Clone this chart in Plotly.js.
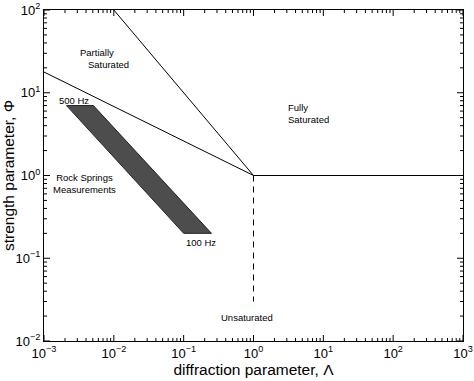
<!DOCTYPE html>
<html><head><meta charset="utf-8">
<script src="https://cdn.plot.ly/plotly-3.0.1.min.js"></script>
<style>html,body{margin:0;padding:0;background:#fff}#c{width:474px;height:381px}</style>
</head><body><div id="c"></div>
<script>
// Regime boundary lines (Λ, Φ)
const steepLam = [0.01, 1];
const steepPhi = [100, 1];
const shallowLam = [0.001, 1];
const shallowPhi = [17.8, 1];
const flatLam = [1, 1000];
const flatPhi = [1, 1];
const dashLam = [1, 1];
const dashPhi = [1, 0.03];
// Rock Springs measurement band (polygon corners)
const bandLam = [0.0021, 0.0051, 0.25, 0.1, 0.0021];
const bandPhi = [7.0, 7.0, 0.2, 0.2, 7.0];
// Tick labels
const xTickVals = [0.001, 0.01, 0.1, 1, 10, 100, 1000];
const xTickText = ['10<sup>−3</sup>','10<sup>−2</sup>','10<sup>−1</sup>','10<sup>0</sup>','10<sup>1</sup>','10<sup>2</sup>','10<sup>3</sup>'];
const yTickVals = [0.01, 0.1, 1, 10, 100];
const yTickText = ['10<sup>−2</sup>','10<sup>−1</sup>','10<sup>0</sup>','10<sup>1</sup>','10<sup>2</sup>'];
const minorMult = [2, 3, 4, 5, 6, 7, 8, 9];
// Region labels
const labelText = ['Partially<br>   Saturated', 'Fully<br>Saturated', '500 Hz', '100 Hz', 'Rock Springs<br>Measurements', 'Unsaturated'];
const labelLam = [0.00307, 2.9, 0.00153, 0.101, 0.00374, 0.81];
const labelPhi = [26.3, 5.6, 7.95, 0.157, 0.81, 0.0195];
const labelAnchor = ['left', 'left', 'left', 'left', 'center', 'center'];

const xRange = [-3, 3];
const yRange = [-2, 2];

function minorTicks(majors){
  const out = [];
  majors.slice(0, -1).forEach(m => minorMult.forEach(k => out.push(m * k)));
  return out;
}
function frac(v, r){ return (Math.log10(v) - r[0]) / (r[1] - r[0]); }

// tick marks drawn inside the box on all four sides
const tickShapes = [];
const tl = {color:'#000', width:1};
function addX(vals, len){
  vals.forEach(v => {
    const f = frac(v, xRange);
    tickShapes.push({type:'line', xref:'paper', yref:'paper', x0:f, x1:f, ysizemode:'pixel', yanchor:0, y0:0, y1:len, line:tl, layer:'above'});
    tickShapes.push({type:'line', xref:'paper', yref:'paper', x0:f, x1:f, ysizemode:'pixel', yanchor:1, y0:0, y1:-len, line:tl, layer:'above'});
  });
}
function addY(vals, len){
  vals.forEach(v => {
    const f = frac(v, yRange);
    tickShapes.push({type:'line', xref:'paper', yref:'paper', y0:f, y1:f, xsizemode:'pixel', xanchor:0, x0:0, x1:len, line:tl, layer:'above'});
    tickShapes.push({type:'line', xref:'paper', yref:'paper', y0:f, y1:f, xsizemode:'pixel', xanchor:1, x0:0, x1:-len, line:tl, layer:'above'});
  });
}
addX(xTickVals, 6); addX(minorTicks(xTickVals), 3);
addY(yTickVals, 6); addY(minorTicks(yTickVals), 3);

const FONT = 'Liberation Sans, Arial, Helvetica, sans-serif';
const line = {color:'#000', width:1};
const traces = [
  {x:bandLam, y:bandPhi, mode:'lines', fill:'toself', fillcolor:'#4d4d4d', line:{color:'#222', width:1}, hoverinfo:'skip'},
  {x:steepLam, y:steepPhi, mode:'lines', line:line},
  {x:shallowLam, y:shallowPhi, mode:'lines', line:line},
  {x:flatLam, y:flatPhi, mode:'lines', line:line},
  {x:dashLam, y:dashPhi, mode:'lines', line:{color:'#000', width:1, dash:'6px,5px'}}
];
const ax = {
  type:'log', showgrid:false, zeroline:false, showline:true, linecolor:'#000', linewidth:1,
  mirror:true, ticks:'', tickfont:{family:FONT, size:13, color:'#000'}
};
const layout = {
  width:474, height:381, margin:{l:44, r:11, t:10, b:40},
  paper_bgcolor:'#fff', plot_bgcolor:'#fff', showlegend:false,
  xaxis:Object.assign({}, ax, {range:xRange, tickvals:xTickVals, ticktext:xTickText,
    title:{text:'diffraction parameter, Λ', standoff:2, font:{family:FONT, size:15.5, color:'#000'}}}),
  yaxis:Object.assign({}, ax, {range:yRange, tickvals:yTickVals, ticktext:yTickText,
    title:{text:'strength parameter, Φ', standoff:2, font:{family:FONT, size:15.5, color:'#000'}}}),
  shapes: tickShapes,
  annotations: labelText.map((t,i)=>({x:Math.log10(labelLam[i]), y:Math.log10(labelPhi[i]), xref:'x', yref:'y',
    text:t, showarrow:false, xanchor:labelAnchor[i], align:labelAnchor[i],
    font:{family:FONT, size:9.5, color:'#000'}}))
};
Plotly.newPlot('c', traces, layout, {displayModeBar:false, staticPlot:true});
</script></body></html>
